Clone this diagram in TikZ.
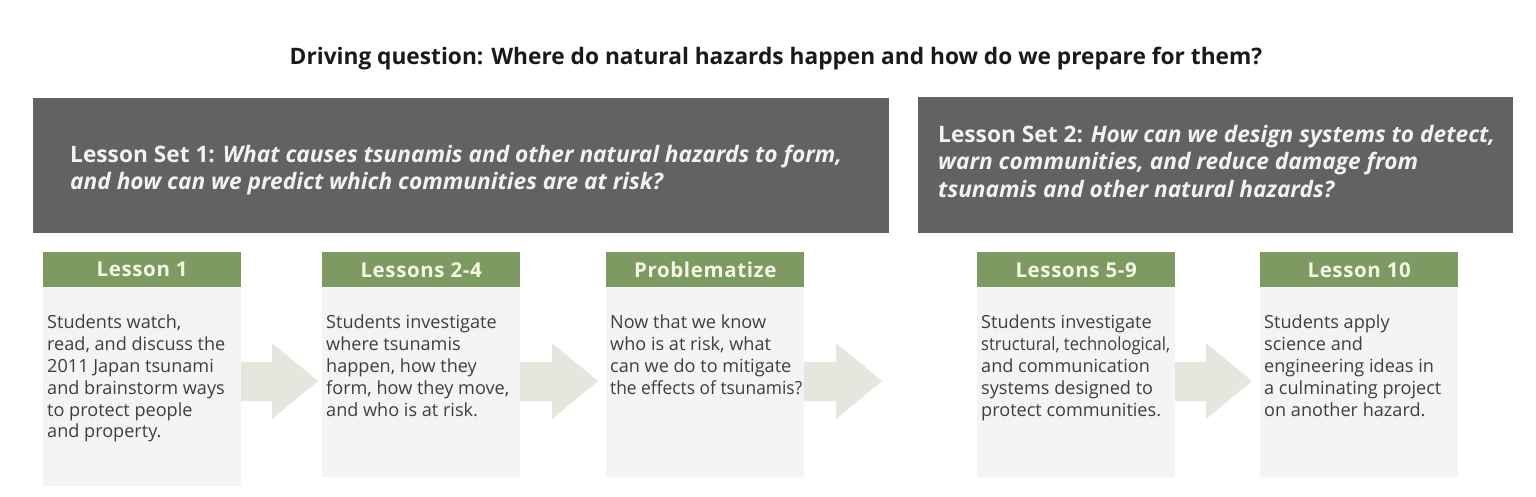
\documentclass[tikz,border=0pt]{standalone}
\usepackage{fontspec}
\usepackage{graphicx}
\setmainfont{Open Sans}
\usetikzlibrary{calc}
\definecolor{darkbox}{HTML}{626262}
\definecolor{hdrgreen}{HTML}{7C9A61}
\definecolor{hdrtext}{HTML}{F4F7E4}
\definecolor{bodybg}{HTML}{F3F4F6}
\definecolor{arrowc}{HTML}{E5E7DE}
\definecolor{bodytxt}{HTML}{3E3E3E}
\definecolor{titletxt}{HTML}{1A1A1A}
\definecolor{settxt}{HTML}{F2F2F2}
\tikzset{
  setbox/.style={fill=darkbox, draw=none, anchor=north west, inner sep=0pt},
  settext/.style={anchor=north west, inner sep=0pt, text=settxt, align=left,
    font=\fontsize{22.7}{27.3}\selectfont\bfseries},
  hdrbox/.style={fill=hdrgreen, draw=none, anchor=north west, inner sep=0pt,
    minimum width=198pt, minimum height=35pt, text=hdrtext,
    font=\fontsize{20.5}{22}\selectfont\bfseries\addfontfeature{LetterSpace=3}},
  bodybox/.style={fill=bodybg, draw=none, anchor=north west, inner sep=0pt,
    minimum width=198pt},
  bodytext/.style={anchor=north west, inner sep=0pt, text=bodytxt, align=left,
    font=\fontsize{18.1}{21.8}\selectfont},
  flowarrow/.style={fill=arrowc, draw=none},
}
\newcommand{\flowarr}[2]{% #1 = start x, #2 = tip x
  \fill[flowarrow] (#1,362) -- ({#2-46},362) -- ({#2-46},343) -- (#2,381)
    -- ({#2-46},419) -- ({#2-46},401) -- (#1,401) -- cycle;}
\newcommand{\squeeze}[2]{\resizebox{#1}{\height}{#2}}
\begin{document}
\begin{tikzpicture}[x=1pt,y=-1pt]
\useasboundingbox[fill=white] (0,0) rectangle (1536,496);

% title
\node[anchor=base, inner sep=0pt, text=titletxt,
  font=\fontsize{22.7}{25}\selectfont\bfseries] (title) at (776,64)
  {Driving question: Where do natural hazards happen and how do we prepare for them?};

% lesson set boxes
\node[setbox, minimum width=856pt, minimum height=135pt] (set1) at (33,98) {};
\node[setbox, minimum width=595pt, minimum height=136pt] (set2) at (918,97) {};
\node[settext] (set1t) at ($(set1.north west)+(37,47)$)
  {Lesson Set 1: \textit{What causes tsunamis and other natural hazards to form,}\\
   \textit{and how can we predict which communities are at risk?}};
\node[settext] (set2t) at ($(set2.north west)+(20,28)$)
  {Lesson Set 2: \textit{How can we design systems to detect,}\\
   \textit{warn communities, and reduce damage from}\\
   \textit{tsunamis and other natural hazards?}};

% arrows (behind boxes)
\flowarr{240}{318}
\flowarr{519}{598}
\flowarr{803}{882}
\flowarr{1174}{1252}

% lesson columns
\node[bodybox, minimum height=199pt] (b1) at (43,287) {};
\node[bodybox, minimum height=190pt] (b2) at (322,287) {};
\node[bodybox, minimum height=190pt] (b3) at (606,287) {};
\node[bodybox, minimum height=190pt] (b4) at (977,287) {};
\node[bodybox, minimum height=190pt] (b5) at (1260,287) {};

\node[hdrbox] (h1) at (43,252) {Lesson 1};
\node[hdrbox] (h2) at (322,252) {Lessons 2-4};
\node[hdrbox] (h3) at (606,252) {Problematize};
\node[hdrbox] (h4) at (977,252) {Lessons 5-9};
\node[hdrbox] (h5) at (1260,252) {Lesson 10};

\node[bodytext] (t1) at ($(b1.north west)+(4,28)$)
  {Students watch,\\ read, and discuss the\\ 2011 Japan tsunami\\ and brainstorm ways\\ to protect people\\ and property.};
\node[bodytext] (t2) at ($(b2.north west)+(4,28)$)
  {Students investigate\\ where tsunamis\\ happen, how they\\ form, how they move,\\ and who is at risk.};
\node[bodytext] (t3) at ($(b3.north west)+(4,28)$)
  {Now that we know\\ who is at risk, what\\ can we do to mitigate\\ \squeeze{192pt}{the effects of tsunamis?}};
\node[bodytext] (t4) at ($(b4.north west)+(4,28)$)
  {Students investigate\\ \squeeze{189pt}{structural, technological,}\\ and communication\\ systems designed to\\ protect communities.};
\node[bodytext] (t5) at ($(b5.north west)+(4,28)$)
  {Students apply\\ science and\\ engineering ideas in\\ a culminating project\\ on another hazard.};
\end{tikzpicture}
\end{document}
